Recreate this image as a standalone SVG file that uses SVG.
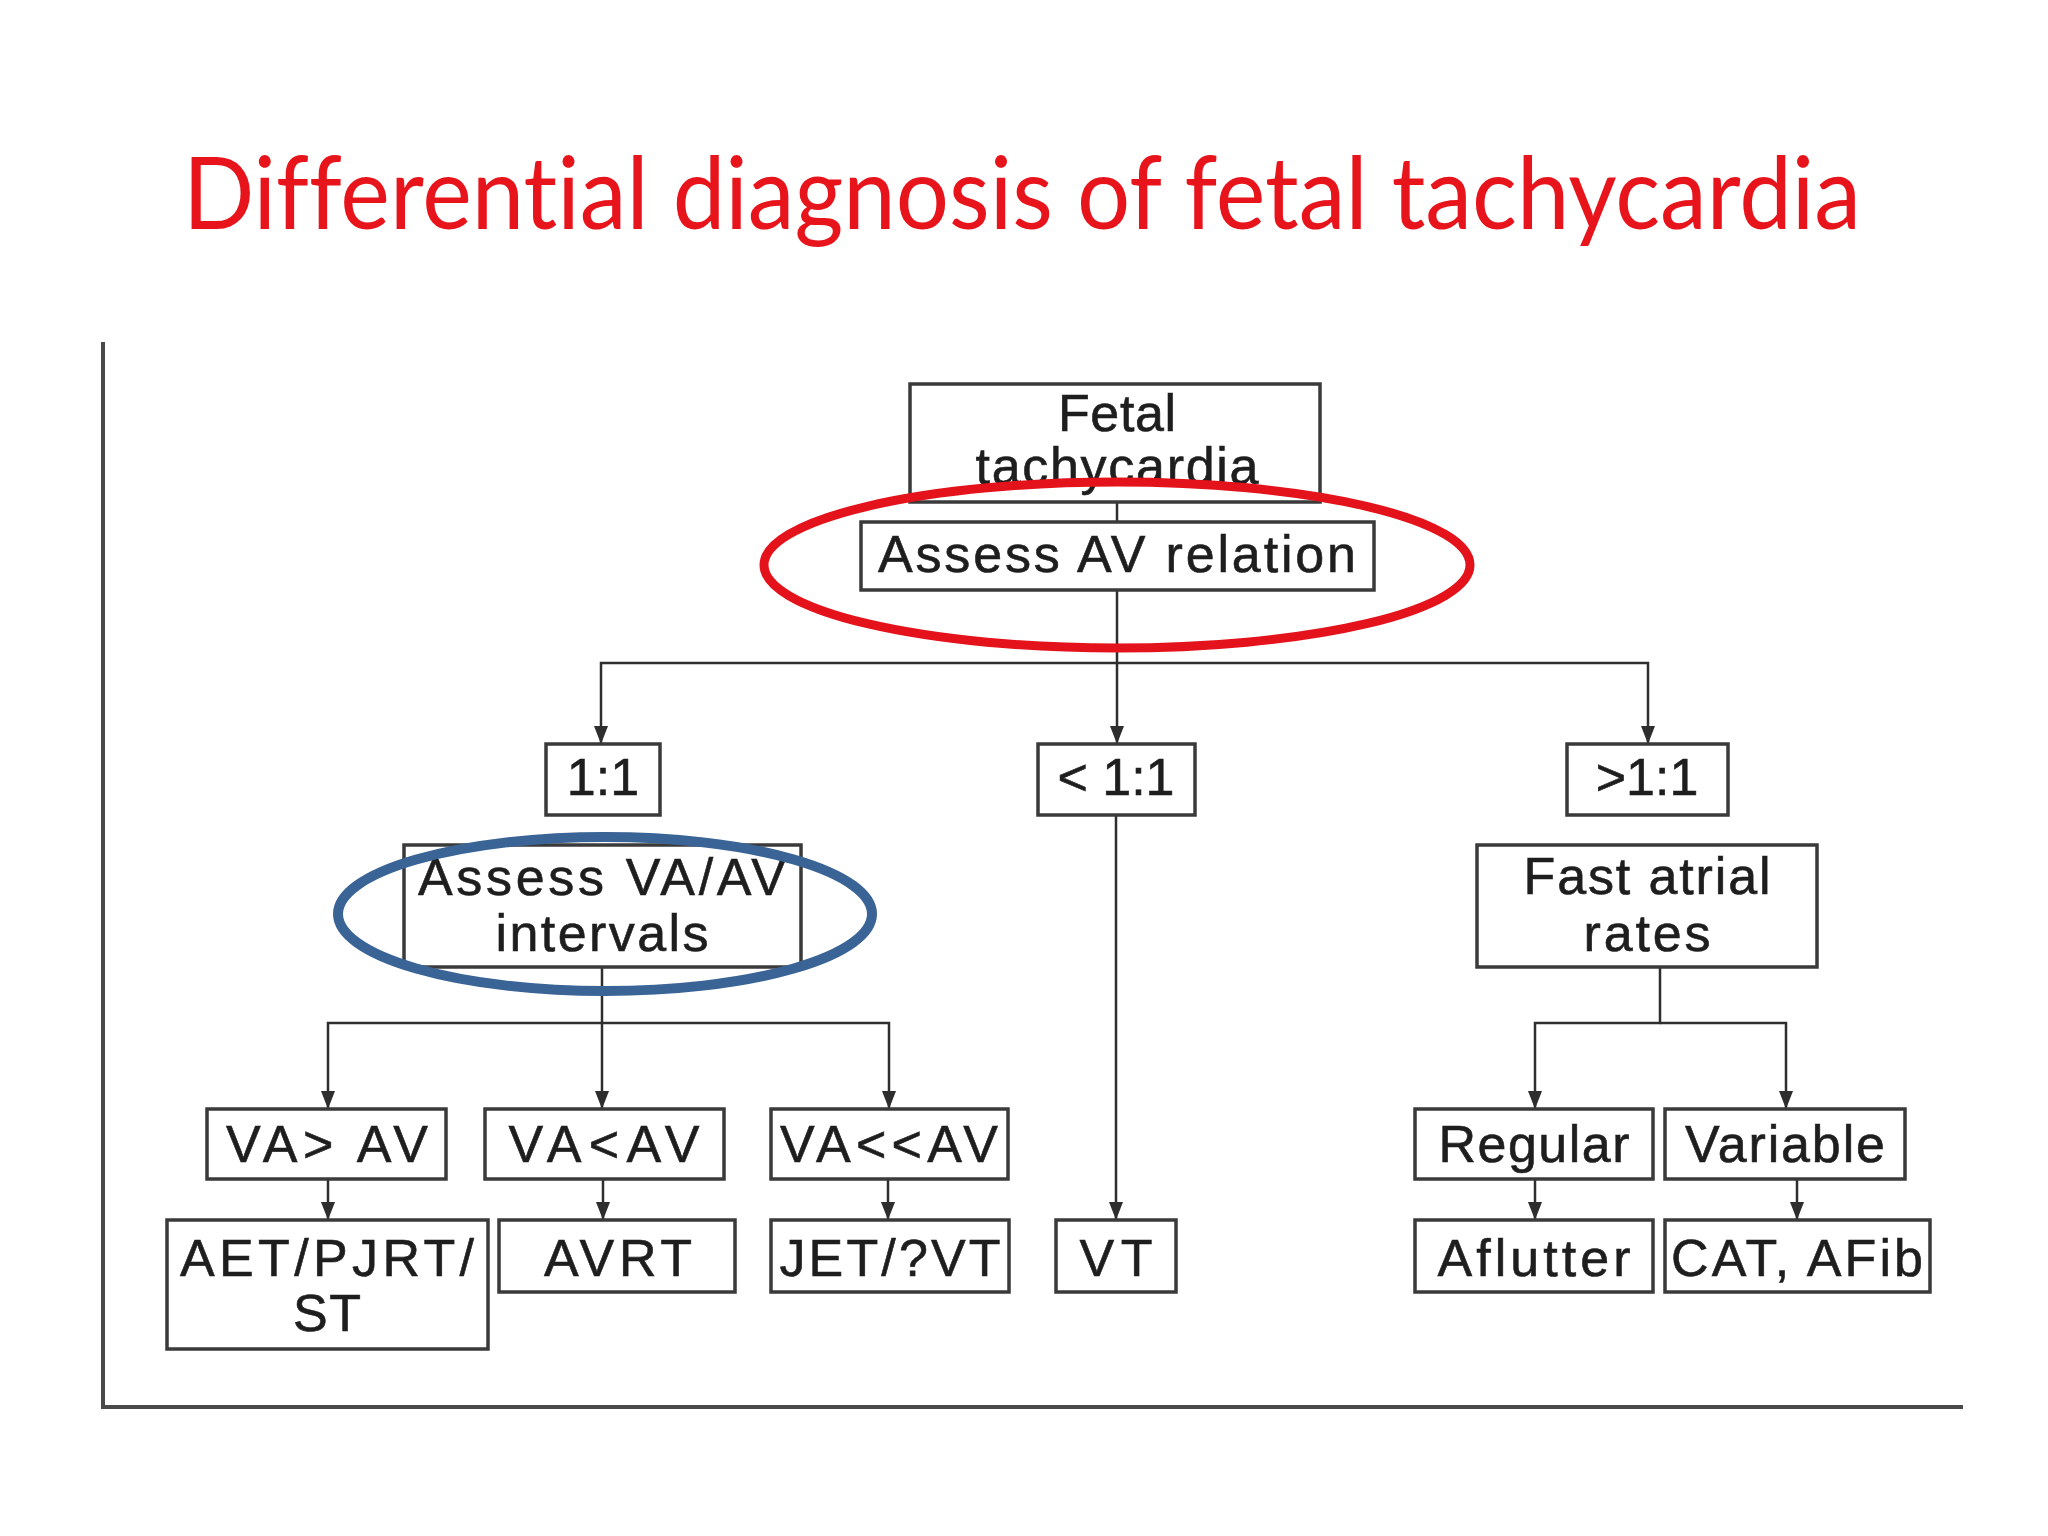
<svg xmlns="http://www.w3.org/2000/svg" width="2048" height="1536" viewBox="0 0 2048 1536">
<defs>
<style>
.box{fill:#fff;stroke:#3a3a3a;stroke-width:3.5}
.lbl{font-family:"Liberation Sans",Arial,sans-serif;font-size:52px;fill:#1e1e1e;stroke:#1e1e1e;stroke-width:0.6;text-anchor:middle}
.con{fill:none;stroke:#2e2e2e;stroke-width:2.5}
.title{font-family:Lato,"Open Sans",sans-serif;font-size:100px;fill:#e8141c;font-variant-ligatures:none}
.axis{stroke:#4a4a4a;stroke-width:4;fill:none}
</style>
<marker id="arr" markerUnits="userSpaceOnUse" markerWidth="18" markerHeight="14" refX="18" refY="7" orient="auto">
<path d="M0,0 L18,7 L0,14 z" fill="#2e2e2e"/>
</marker>
</defs>
<rect width="2048" height="1536" fill="#fff"/>
<text class="title" x="183" y="229" textLength="1678" lengthAdjust="spacingAndGlyphs">Differential diagnosis of fetal tachycardia</text>
<g id="axes">
<path class="axis" d="M103,342 V1407 H1963"/>
</g>
<g id="connectors">
<path class="con" d="M1117,502 V522"/>
<path class="con" d="M1117,590 V744" marker-end="url(#arr)"/>
<path class="con" d="M1117,663 H601 V744" marker-end="url(#arr)"/>
<path class="con" d="M1117,663 H1648 V744" marker-end="url(#arr)"/>
<path class="con" d="M1116,815 V1220" marker-end="url(#arr)"/>
<path class="con" d="M602,967 V1109" marker-end="url(#arr)"/>
<path class="con" d="M602,1023 H328 V1109" marker-end="url(#arr)"/>
<path class="con" d="M602,1023 H889 V1109" marker-end="url(#arr)"/>
<path class="con" d="M328,1179 V1220" marker-end="url(#arr)"/>
<path class="con" d="M603,1179 V1220" marker-end="url(#arr)"/>
<path class="con" d="M888,1179 V1220" marker-end="url(#arr)"/>
<path class="con" d="M1660,967 V1023 H1535 V1109" marker-end="url(#arr)"/>
<path class="con" d="M1660,1023 H1786 V1109" marker-end="url(#arr)"/>
<path class="con" d="M1535,1179 V1220" marker-end="url(#arr)"/>
<path class="con" d="M1797,1179 V1220" marker-end="url(#arr)"/>
</g>
<g id="n-fetal">
<rect class="box" x="910" y="384" width="410" height="118"/>
<text class="lbl" x="1117" y="431" textLength="118" lengthAdjust="spacing">Fetal</text>
<text class="lbl" x="1117" y="484" textLength="283" lengthAdjust="spacing">tachycardia</text>
</g>
<g id="n-assess-av">
<rect class="box" x="861" y="522" width="513" height="68"/>
<text class="lbl" x="1117" y="572" textLength="478" lengthAdjust="spacing">Assess AV relation</text>
</g>
<g id="n-11">
<rect class="box" x="546" y="744" width="114" height="71"/>
<text class="lbl" x="603" y="795">1:1</text>
</g>
<g id="n-lt11">
<rect class="box" x="1038" y="744" width="157" height="71"/>
<text class="lbl" x="1116" y="795">&lt; 1:1</text>
</g>
<g id="n-gt11">
<rect class="box" x="1567" y="744" width="161" height="71"/>
<text class="lbl" x="1647" y="795">&gt;1:1</text>
</g>
<g id="n-assess-vaav">
<rect class="box" x="404" y="845" width="397" height="122"/>
<text class="lbl" x="602" y="895" textLength="368" lengthAdjust="spacing">Assess VA/AV</text>
<text class="lbl" x="602" y="951" textLength="213" lengthAdjust="spacing">intervals</text>
</g>
<g id="n-fast">
<rect class="box" x="1477" y="845" width="340" height="122"/>
<text class="lbl" x="1647" y="894" textLength="247" lengthAdjust="spacing">Fast atrial</text>
<text class="lbl" x="1647" y="951" textLength="127" lengthAdjust="spacing">rates</text>
</g>
<g id="n-vagtav">
<rect class="box" x="207" y="1109" width="239" height="70"/>
<text class="lbl" x="327" y="1162" textLength="202" lengthAdjust="spacing">VA&gt; AV</text>
</g>
<g id="n-valtav">
<rect class="box" x="485" y="1109" width="239" height="70"/>
<text class="lbl" x="604" y="1162" textLength="191" lengthAdjust="spacing">VA&lt;AV</text>
</g>
<g id="n-valltav">
<rect class="box" x="771" y="1109" width="237" height="70"/>
<text class="lbl" x="889" y="1162" textLength="218" lengthAdjust="spacing">VA&lt;&lt;AV</text>
</g>
<g id="n-aet">
<rect class="box" x="167" y="1220" width="321" height="129"/>
<text class="lbl" x="327" y="1276" textLength="294" lengthAdjust="spacing">AET/PJRT/</text>
<text class="lbl" x="327" y="1331" textLength="68" lengthAdjust="spacing">ST</text>
</g>
<g id="n-avrt">
<rect class="box" x="499" y="1220" width="236" height="72"/>
<text class="lbl" x="618" y="1276" textLength="148" lengthAdjust="spacing">AVRT</text>
</g>
<g id="n-jet">
<rect class="box" x="771" y="1220" width="238" height="72"/>
<text class="lbl" x="890" y="1276" textLength="221" lengthAdjust="spacing">JET/?VT</text>
</g>
<g id="n-vt">
<rect class="box" x="1056" y="1220" width="120" height="72"/>
<text class="lbl" x="1116" y="1276" textLength="73" lengthAdjust="spacing">VT</text>
</g>
<g id="n-regular">
<rect class="box" x="1415" y="1109" width="238" height="70"/>
<text class="lbl" x="1534" y="1162" textLength="191" lengthAdjust="spacing">Regular</text>
</g>
<g id="n-variable">
<rect class="box" x="1665" y="1109" width="240" height="70"/>
<text class="lbl" x="1785" y="1162" textLength="200" lengthAdjust="spacing">Variable</text>
</g>
<g id="n-aflutter">
<rect class="box" x="1415" y="1220" width="238" height="72"/>
<text class="lbl" x="1534" y="1276" textLength="193" lengthAdjust="spacing">Aflutter</text>
</g>
<g id="n-cat">
<rect class="box" x="1665" y="1220" width="265" height="72"/>
<text class="lbl" x="1797" y="1276" textLength="252" lengthAdjust="spacing">CAT, AFib</text>
</g>
<g id="highlights">
<ellipse cx="1117" cy="565" rx="353" ry="83" fill="none" stroke="#e3121b" stroke-width="9"/>
<ellipse cx="605" cy="914" rx="267" ry="77" fill="none" stroke="#3a6496" stroke-width="10"/>
</g>
</svg>
